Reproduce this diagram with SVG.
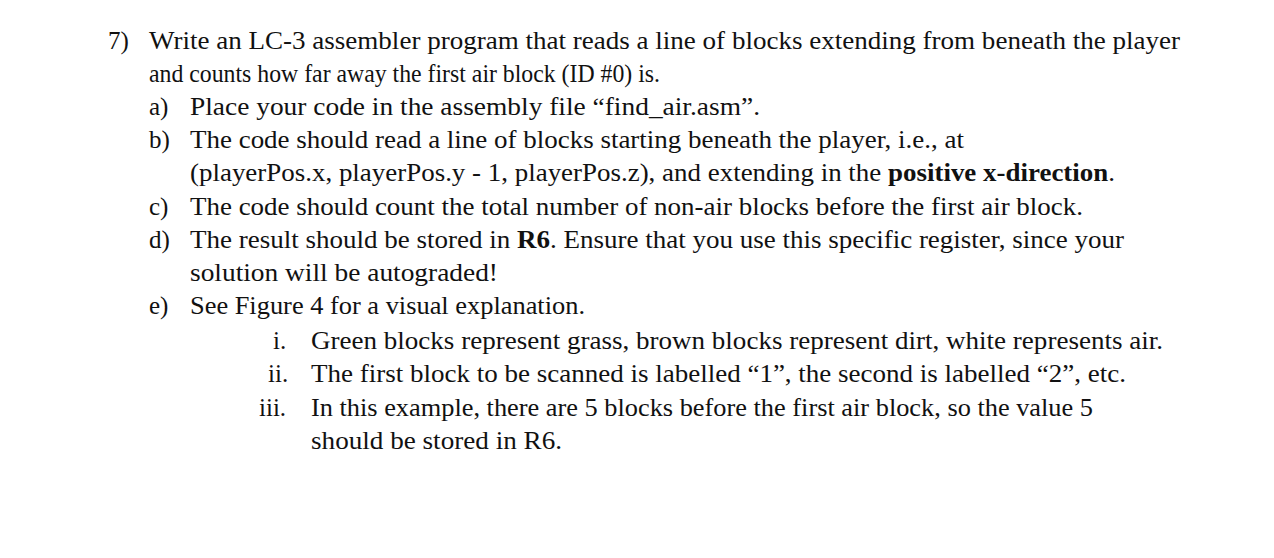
<svg xmlns="http://www.w3.org/2000/svg" width="1274" height="558" viewBox="0 0 1274 558">
<style>
text{font-family:"Liberation Serif","Times New Roman",serif;font-size:25px;fill:#111}
.b{font-weight:bold}
</style>
<rect width="1274" height="558" fill="#fff"/>
<g id="question">
<text x="108" y="49">7)</text>
<text x="149" y="49" textLength="1031" lengthAdjust="spacingAndGlyphs">Write an LC-3 assembler program that reads a line of blocks extending from beneath the player</text>
<text x="149" y="82" textLength="511" lengthAdjust="spacingAndGlyphs">and counts how far away the first air block (ID #0) is.</text>
<text x="149" y="115">a)</text>
<text x="190" y="115" textLength="570" lengthAdjust="spacingAndGlyphs">Place your code in the assembly file “find_air.asm”.</text>
<text x="149" y="148">b)</text>
<text x="190" y="148" textLength="774" lengthAdjust="spacingAndGlyphs">The code should read a line of blocks starting beneath the player, i.e., at</text>
<text x="190" y="181" textLength="925" lengthAdjust="spacingAndGlyphs">(playerPos.x, playerPos.y - 1, playerPos.z), and extending in the <tspan class="b">positive x-direction</tspan>.</text>
<text x="149" y="215">c)</text>
<text x="190" y="215" textLength="893" lengthAdjust="spacingAndGlyphs">The code should count the total number of non-air blocks before the first air block.</text>
<text x="149" y="248">d)</text>
<text x="190" y="248" textLength="934" lengthAdjust="spacingAndGlyphs">The result should be stored in <tspan class="b">R6</tspan>. Ensure that you use this specific register, since your</text>
<text x="190" y="281" textLength="308" lengthAdjust="spacingAndGlyphs">solution will be autograded!</text>
<text x="149" y="314">e)</text>
<text x="190" y="314" textLength="395" lengthAdjust="spacingAndGlyphs">See Figure 4 for a visual explanation.</text>
<text x="273" y="349">i.</text>
<text x="311" y="349" textLength="852" lengthAdjust="spacingAndGlyphs">Green blocks represent grass, brown blocks represent dirt, white represents air.</text>
<text x="268" y="382">ii.</text>
<text x="311" y="382" textLength="815" lengthAdjust="spacingAndGlyphs">The first block to be scanned is labelled “1”, the second is labelled “2”, etc.</text>
<text x="259" y="416">iii.</text>
<text x="311" y="416" textLength="782" lengthAdjust="spacingAndGlyphs">In this example, there are 5 blocks before the first air block, so the value 5</text>
<text x="311" y="449" textLength="251" lengthAdjust="spacingAndGlyphs">should be stored in R6.</text>
</g>
</svg>
